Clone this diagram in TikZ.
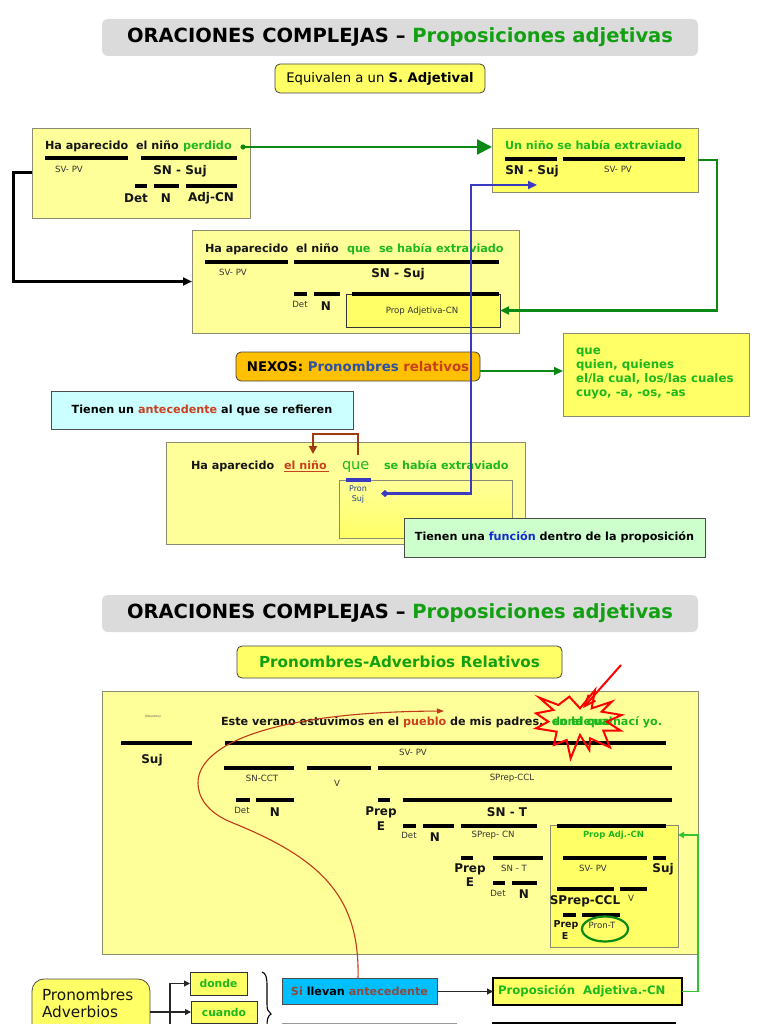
\documentclass[tikz,border=0pt]{standalone}
\usepackage{fontspec}
\usetikzlibrary{arrows.meta,shapes.geometric}
\setmainfont{DejaVu Sans}
\newcommand{\fs}[1]{\fontsize{#1}{#1}\selectfont}
\definecolor{pale}{HTML}{FFFF99}
\definecolor{sat}{HTML}{FFFF66}
\definecolor{bord}{HTML}{8C8C70}
\definecolor{gtxt}{HTML}{1DB81D}
\definecolor{darkg}{HTML}{0A8A14}
\definecolor{titleg}{HTML}{12A012}
\definecolor{lineg}{HTML}{33C433}
\definecolor{rtxt}{HTML}{C8401E}
\definecolor{btxt}{HTML}{2A50A8}
\definecolor{bline}{HTML}{3A3AC0}
\definecolor{brown}{HTML}{A03A10}
\definecolor{curve}{HTML}{C03A18}
\definecolor{txtk}{HTML}{151515}
\definecolor{amber}{HTML}{FFC000}
\definecolor{aqua}{HTML}{CCFFFF}
\definecolor{mint}{HTML}{CCFFCC}
\definecolor{sky}{HTML}{00BFFF}
\definecolor{siB}{HTML}{8A4A40}
\tikzset{
  every node/.style={inner sep=0pt,outer sep=0pt},
  box/.style={draw=bord,line width=.9pt,fill=pale},
  satbox/.style={draw=bord,line width=.9pt,fill=sat},
  pill/.style={draw=black!75,line width=.8pt,rounded corners=5pt,fill=sat},
  gray title/.style={fill=black!14,rounded corners=6pt},
  bar/.style={line width=3.2pt,black},
  tb/.style={anchor=base west,yshift=-4.5pt,font=\fs{11.2}\bfseries,text=txtk},
  sm/.style={font=\fs{8.6},text=black!80},
  mid/.style={font=\bfseries\fs{12},text=txtk},
  gr/.style={text=gtxt},
  lst/.style={anchor=base west,yshift=-4.5pt,font=\fs{11.8}\bfseries,text=gtxt},
  conn/.style={line width=2.2pt},
  thin link/.style={line width=1.1pt,black!85,-{Triangle[length=6pt,width=6pt]}},
}
\begin{document}
\begin{tikzpicture}[x=1pt,y=-1pt]
\useasboundingbox (0,0) rectangle (768,1024);
\clip (0,0) rectangle (768,1024);
% Title 1
\node[gray title,minimum width=596pt,minimum height=37pt] (title1) at (400,37.5)
 {\raisebox{-1.5pt}{\bfseries\fs{19.5}ORACIONES COMPLEJAS -- \textcolor{titleg}{Proposiciones adjetivas}}};
\node[pill,minimum width=210pt,minimum height=29pt] (equiv) at (380,78.5)
 {\fs{13.2}Equivalen a un \textbf{S. Adjetival}};
% Box 1
\node[box,minimum width=218pt,minimum height=90pt] (box1) at (141,173) {};
\node[tb] (b1a) at (45,145) {Ha aparecido};
\node[tb] (b1b) at (136,145) {el niño};
\node[tb,gr] (b1c) at (183,145) {perdido};
\draw[bar] (45,158)--(128,158) (141,158)--(237,158) (135,186)--(147,186) (154,186)--(179,186) (186,186)--(237,186);
\node[sm] (b1d) at (69,169) {SV- PV};
\node[mid] (b1e) at (180,171) {SN - Suj};
\node[mid] (b1f) at (136,198) {Det};
\node[mid] (b1g) at (166,198) {N};
\node[mid] (b1h) at (211,198) {Adj-CN};
% Box 3
\node[satbox,minimum width=206pt,minimum height=64pt] (box3) at (595,160) {};
\node[tb,gr] (b3a) at (505,145) {Un niño se había extraviado};
\draw[bar] (505,159)--(557,159) (563,159)--(685,159);
\node[mid] (b3b) at (532,171) {SN - Suj};
\node[sm] (b3c) at (618,169) {SV- PV};
% Box 2
\node[box,minimum width=327pt,minimum height=103pt] (box2) at (355.5,281.5) {};
\node[satbox,draw=black!80,minimum width=154pt,minimum height=33pt] (inner2) at (423,310.5) {};
\node[tb] (b2a) at (205,248) {Ha aparecido};
\node[tb] (b2b) at (296,248) {el niño};
\node[tb,gr] (b2c) at (347,248) {que};
\node[tb,gr] (b2d) at (379,248) {se había extraviado};
\draw[bar] (205,262)--(288,262) (294,262)--(499,262) (294,294)--(307,294) (314,294)--(340,294) (352,294)--(499,294);
\node[sm] (b2e) at (233,272) {SV- PV};
\node[mid] (b2f) at (398,274) {SN - Suj};
\node[sm] (b2g) at (300,304) {Det};
\node[mid] (b2h) at (326,306) {N};
\node[sm] (b2i) at (422,311) {Prop Adjetiva-CN};
% Nexos
\node[pill,fill=amber,minimum width=244pt,minimum height=29pt] (nexos) at (358,366.5)
 {\fs{13.3}\bfseries NEXOS: \textcolor{btxt}{Pronombres} \textcolor{rtxt}{relativos}};
\node[satbox,minimum width=186pt,minimum height=83pt] (quebox) at (656,374.5) {};
\node[lst] (q1) at (576,350) {que};
\node[lst] (q2) at (576,364) {quien, quienes};
\node[lst] (q3) at (576,378) {el/la cual, los/las cuales};
\node[lst] (q4) at (576,392) {cuyo, -a, -os, -as};
% Tienen
\node[draw=black!70,line width=.9pt,fill=aqua,minimum width=302pt,minimum height=38pt] (ante) at (202,410)
 {\fs{11.2}\bfseries Tienen un \textcolor{rtxt}{antecedente} al que se refieren};
% Box 4
\node[box,minimum width=359pt,minimum height=102pt] (box4) at (345.5,493) {};
\node[draw=bord,line width=.9pt,top color=pale,bottom color=sat,minimum width=173pt,minimum height=58pt] (inner4) at (425.5,509) {};
\node[tb] (b4a) at (191,465) {Ha aparecido};
\node[tb,text=rtxt] (b4b) at (284,465) {\underline{el niño\,}};
\node[anchor=base west,text=gtxt,font=\fs{14.5}] (b4c) at (342,469) {que};
\node[tb,gr] (b4d) at (384,465) {se había extraviado};
\draw[line width=3.2pt,bline] (346,480)--(371,480);
\node[font=\fs{8},text=btxt!85!black] (b4e) at (358,489) {Pron};
\node[font=\fs{8},text=btxt!85!black] (b4f) at (358,499) {Suj};
\node[draw=black!70,line width=.9pt,fill=mint,minimum width=301pt,minimum height=39pt] (func) at (554.5,537.5)
 {\fs{11.2}\bfseries Tienen una \textcolor{btxt!50!blue}{función} dentro de la proposición};
% Connectors, top part
\coordinate (c1a) at (243,147);
\coordinate (c1b) at (492,147);
\coordinate (c2a) at (381,493.5);
\coordinate (c2b) at (537,185);
\coordinate (c3a) at (480,371);
\coordinate (c3b) at (563,371);
\coordinate (c4a) at (358,455);
\coordinate (c4b) at (313,454);
\draw[conn,black,line width=3pt,-{Triangle[length=9pt,width=8pt]}] (box1.west) -- ++(-19,0) |- (box2.west);
\fill[darkg] (c1a) circle (2.6pt);
\draw[conn,darkg,-{Triangle[length=15pt,width=15pt]}] (c1a) -- (c1b);
\draw[conn,darkg,-{Triangle[length=9pt,width=8pt]}] (box3.east) -- ++(19,0) |- (inner2.east);
\draw[conn,darkg,-{Triangle[length=9pt,width=8pt]}] (c3a) -- (c3b);
\draw[conn,brown,-{Triangle[length=8pt,width=8pt]}] (c4a) -- ++(0,-21) -| (c4b);
\draw[conn,bline,{Diamond[length=8pt,width=7pt]}-{Triangle[length=9pt,width=8pt]}] (c2a) -| (471,185) -- (c2b);
% Title 2
\node[gray title,minimum width=596pt,minimum height=37pt] (title2) at (400,613.5)
 {\raisebox{-1.5pt}{\bfseries\fs{19.5}ORACIONES COMPLEJAS -- \textcolor{titleg}{Proposiciones adjetivas}}};
\node[pill,minimum width=325pt,minimum height=32pt] (advrel) at (399.5,662)
 {\fs{15.2}\bfseries\textcolor{titleg}{Pronombres-Adverbios Relativos}};
% Big box
\node[box,minimum width=596pt,minimum height=263pt] (big) at (400,822.5) {};
\node[font=\fs{3},text=black!70] (nos) at (153,717) {(Nosotros)};
\node[tb] (s1) at (221,721) {Este verano estuvimos en el \textcolor{rtxt}{pueblo} de mis padres,};
\node[tb,gr] (s2a) at (552,721) {en el que};
\node[tb,gr] (s2b) at (552,721) {donde};
\node[tb,gr] (s2c) at (552,721) {en la cual};
\node[tb,gr] (s2d) at (613,721) {nací yo.};
\draw[bar] (121,743)--(192,743) (225,743)--(666,743)
 (224,768)--(294,768) (307,768)--(371,768) (378,768)--(672,768)
 (236,800)--(250,800) (256,800)--(294,800) (378,800)--(390,800) (403,800)--(672,800)
 (403,826)--(416,826) (423,826)--(454,826) (461,826)--(537,826);
\node[mid] (t1) at (152,760) {Suj};
\node[sm] (t2) at (413,752) {SV- PV};
\node[sm] (t3) at (262,778) {SN-CCT};
\node[sm] (t4) at (337,783) {V};
\node[sm] (t5) at (512,778) {SPrep-CCL};
\node[sm] (t6) at (242,810) {Det};
\node[mid] (t7) at (275,812) {N};
\node[mid] (t8) at (381,812) {Prep};
\node[mid] (t9) at (381,826) {E};
\node[mid] (t10) at (507,812) {SN - T};
\node[sm] (t11) at (409,835) {Det};
\node[mid] (t12) at (435,837) {N};
\node[sm] (t13) at (493,835) {SPrep- CN};
% inner adjective box
\node[draw=bord,line width=.9pt,fill=sat,minimum width=128pt,minimum height=122pt] (pa) at (614,886) {};
\draw[bar] (557,826)--(666,826) (461,858)--(473,858) (493,858)--(543,858) (563,858)--(647,858) (653,858)--(666,858)
 (493,883)--(505,883) (512,883)--(537,883) (557,889)--(614,889) (620,889)--(647,889)
 (563,915)--(576,915) (582,915)--(620,915);
\node[font=\fs{8.5}\bfseries,text=gtxt] (t14) at (613.5,835) {Prop Adj.-CN};
\node[mid] (t15) at (470,869) {Prep};
\node[mid] (t16) at (470,882) {E};
\node[sm] (t17) at (514,868) {SN - T};
\node[sm] (t18) at (593,868) {SV- PV};
\node[mid] (t19) at (663,869) {Suj};
\node[sm] (t20) at (498,893) {Det};
\node[mid] (t21) at (524,894) {N};
\node[mid] (t22) at (585,901) {SPrep-CCL};
\node[sm] (t23) at (631,898) {V};
\node[font=\fs{9.5}\bfseries,text=txtk] (t24) at (566,925) {Prep};
\node[font=\fs{9.5}\bfseries,text=txtk] (t25) at (565,936) {E};
\node[sm] (t26) at (602,925) {Pron-T};
\node[draw=darkg,line width=2.2pt,ellipse,minimum width=46pt,minimum height=25pt] (oval) at (605,929) {};
% Bottom row
\node[pill,rounded corners=12pt,minimum width=118pt,minimum height=90pt,draw=black!70] (pron) at (91,1024) {};
\node[anchor=base west,yshift=-5pt,font=\fs{15.3},text=txtk] (p1) at (42,995) {Pronombres};
\node[anchor=base west,yshift=-5pt,font=\fs{15.3},text=txtk] (p2) at (42,1012) {Adverbios};
\node[anchor=base west,yshift=-5pt,font=\fs{15.3},text=txtk] (p3) at (42,1033) {Relativos};
\node[satbox,draw=black!80,minimum width=57pt,minimum height=23pt,text=gtxt,font=\fs{10.8}\bfseries] (donde) at (218.5,983.5) {donde};
\node[satbox,draw=black!80,minimum width=66pt,minimum height=22pt,text=gtxt,font=\fs{10.8}\bfseries] (cuando) at (224,1012) {cuando};
\node[draw=black!70,line width=.9pt,fill=sky,minimum width=155pt,minimum height=26pt] (si) at (359.5,991.5)
 {\fs{11.2}\bfseries\textcolor{siB}{Si} llevan \textcolor{siB}{antecedente}};
\node[draw=black,line width=2.2pt,fill=sat,minimum width=189pt,minimum height=27pt] (prop) at (587.5,991.5) {};
\node[anchor=west,font=\fs{11.7}\bfseries,text=gtxt] (proptxt) at (498,991) {Proposición\ \ Adjetiva.-CN};
\node[draw=black!40,line width=.9pt,fill=white,minimum width=174pt,minimum height=20pt] (low1) at (369,1033) {};
\node[draw=black,line width=2.2pt,fill=white,minimum width=182pt,minimum height=20pt] (low2) at (584,1033) {};
\draw[thin link] (pron.east |- cuando) -- (cuando.west);
\draw[thin link] (170,1012) |- (donde.west);
\draw[line width=1.1pt,black!85] (170,1012) -- (170,1030);
\draw[thin link] (si.east) -- (prop.west);
\coordinate (pain) at (678,835);
\draw[line width=1.5pt,lineg,-{Triangle[length=6pt,width=6pt]}] (prop.east) -- ++(16,0) |- (pain);
\draw[line width=1.1pt,black] (262,972) .. controls (266,973) and (267,978) .. (267,986) -- (267,1004) .. controls (267,1009) and (268,1012) .. (271,1014) .. controls (268,1016) and (267,1019) .. (267,1026);
% Red curve
\draw[line width=1.1pt,curve,-{Triangle[length=7pt,width=5pt]}] (si.north -| 358,0) .. controls (360,900) and (325,860) .. (233,823) .. controls (205,812) and (198,795) .. (198,783) .. controls (198,745) and (270,712) .. (444,711);
% Explosion and arrow
\begin{scope}[shift={(530,660)},x=.3333pt,y=-.3333pt]
\draw[red,line width=2pt,line join=miter] (28,113)--(85,135)--(118,110)--(150,145)--(195,90)--(185,145)--(245,125)--(215,155)--(275,165)--(230,185)--(272,212)--(220,212)--(240,262)--(180,235)--(178,270)--(150,225)--(122,295)--(110,240)--(72,255)--(80,215)--(18,205)--(55,185)--(18,160)--(70,150)--cycle;
\end{scope}
\coordinate (zapa) at (621,665);
\coordinate (zapb) at (583,708);
\draw[red,line width=2pt,-{Straight Barb[length=11pt,width=9pt]}] (zapa) -- (zapb);
\end{tikzpicture}
\end{document}
